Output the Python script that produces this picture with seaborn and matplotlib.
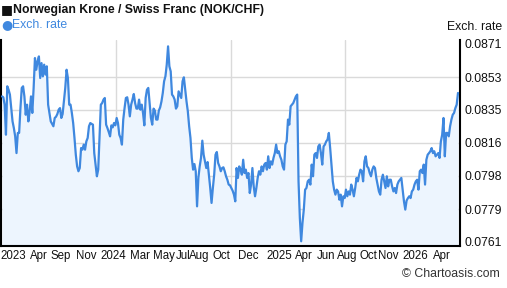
import numpy as np
import pandas as pd
import matplotlib
matplotlib.use("Agg")
import matplotlib.pyplot as plt
import seaborn as sns

# ---- data (NOK/CHF exchange rate) ----
rate_2023 = [0.08419, 0.08414, 0.08373, 0.08206, 0.08475, 0.08456, 0.08429, 0.08354, 0.08280, 0.08243,
             0.08197, 0.08104, 0.08216, 0.08216, 0.08354, 0.08466, 0.08475, 0.08419, 0.08317, 0.08373,
             0.08280, 0.08336, 0.08419, 0.08327, 0.08466, 0.08632, 0.08567, 0.08614, 0.08641, 0.08521,
             0.08604, 0.08530, 0.08595, 0.08540, 0.08586, 0.08373, 0.08327, 0.08280, 0.08266, 0.08253,
             0.08299, 0.08306, 0.08321, 0.08345, 0.08354, 0.08299, 0.08321, 0.08391, 0.08466, 0.08567,
             0.08521, 0.08373, 0.08373, 0.08327, 0.08271, 0.08188, 0.08095, 0.08030, 0.08003]
rate_2023b = [0.08021, 0.08132, 0.08123, 0.08151, 0.08123, 0.08169, 0.08188, 0.08253, 0.08271, 0.08266,
              0.08262, 0.08104, 0.08040, 0.07975, 0.08012, 0.08188, 0.08373, 0.08382, 0.08401, 0.08410,
              0.08262, 0.08243, 0.08221, 0.08197, 0.08258, 0.08247, 0.08271, 0.08258, 0.08299, 0.08271,
              0.08206, 0.08188, 0.08151, 0.08290, 0.08354, 0.08410, 0.08414, 0.08373, 0.08308, 0.08373,
              0.08401, 0.08432, 0.08382, 0.08351, 0.08351, 0.08401, 0.08345, 0.08373, 0.08327, 0.08258,
              0.08410, 0.08456, 0.08466, 0.08382, 0.08299, 0.08262, 0.08351, 0.08340, 0.08290]
rate_2024 = [0.08290, 0.08340, 0.08358, 0.08391, 0.08438, 0.08503, 0.08530, 0.08595, 0.08697, 0.08586,
             0.08558, 0.08429, 0.08419, 0.08401, 0.08351, 0.08364, 0.08447, 0.08429, 0.08410, 0.08503,
             0.08525, 0.08456, 0.08391, 0.08336, 0.08253, 0.08188, 0.08077, 0.08012, 0.08043, 0.08003,
             0.07808, 0.07966, 0.08030, 0.08077, 0.08173, 0.08095, 0.08058, 0.08021, 0.08054, 0.07984,
             0.07910, 0.07827, 0.07910, 0.07984, 0.08095, 0.08110, 0.08049, 0.08030, 0.08003, 0.08021,
             0.08025, 0.08003, 0.07975, 0.07956, 0.07929, 0.07925, 0.07910, 0.07895, 0.07873]
rate_2024b = [0.07836, 0.08021, 0.07966, 0.08030, 0.08012, 0.07984, 0.08067, 0.07993, 0.08012, 0.07966,
              0.07993, 0.07882, 0.07929, 0.08021, 0.07919, 0.07864, 0.07910, 0.07966, 0.08003, 0.07984,
              0.08030, 0.08003, 0.08040, 0.08049, 0.08012, 0.08086, 0.08021, 0.08058, 0.08040, 0.08077,
              0.08104, 0.08151, 0.08104, 0.08114, 0.08086, 0.08067, 0.08030, 0.08012, 0.08151, 0.08169,
              0.08290, 0.08262, 0.08364, 0.08373, 0.08382, 0.08401, 0.08419, 0.08429, 0.07947, 0.07743,
              0.07614, 0.07716, 0.07790, 0.07901, 0.07910, 0.07947, 0.07956, 0.07929, 0.08040]
rate_2025 = [0.07975, 0.08095, 0.08104, 0.08077, 0.08141, 0.08151, 0.08104, 0.08040, 0.08141, 0.08151,
             0.08169, 0.08179, 0.08216, 0.08132, 0.08040, 0.07947, 0.07901, 0.07873, 0.07901, 0.07891,
             0.07845, 0.07873, 0.07808, 0.07864, 0.07854, 0.07901, 0.07864, 0.07891, 0.07873, 0.07929,
             0.07901, 0.07864, 0.07910, 0.07966, 0.07947, 0.07984, 0.08012, 0.08003, 0.07947, 0.08058,
             0.08086, 0.08030, 0.08021, 0.07993, 0.07975, 0.08012, 0.08030, 0.08021, 0.07966, 0.07929,
             0.07891, 0.07873, 0.07956, 0.07984, 0.07947, 0.07910, 0.07975, 0.07919, 0.07956]
rate_2026 = [0.07956, 0.07919, 0.07891, 0.07910, 0.07882, 0.07929, 0.07947, 0.07956, 0.07966, 0.07901,
             0.07836, 0.07790, 0.07840, 0.07854, 0.07864, 0.07854, 0.07891, 0.07901, 0.07929, 0.07947,
             0.07956, 0.07901, 0.08003, 0.08012, 0.07993, 0.08040, 0.07929, 0.08067, 0.08095, 0.08104,
             0.08114, 0.08132, 0.08104, 0.08114, 0.08086, 0.08095, 0.08104, 0.08077, 0.08169, 0.08206,
             0.08299, 0.08086, 0.08216, 0.08216, 0.08197, 0.08253, 0.08290, 0.08317, 0.08327, 0.08354,
             0.08373, 0.08438]

x_labels = ["2023", "Apr", "Sep", "Nov", "2024", "Mar", "May", "Jul", "Aug", "Oct", "Dec",
            "2025", "Apr", "Jun", "Aug", "Oct", "Nov", "2026", "Apr"]
x_label_pos = [8.3, 28.1, 44.8, 63.7, 84.2, 104.7, 122.9, 137.3, 149.5, 166.2, 186.7,
               210.2, 229.2, 245.9, 261.8, 277.7, 292.9, 313.4, 333.8]
y_tick_labels = ["0.0761", "0.0779", "0.0798", "0.0816", "0.0835", "0.0853", "0.0871"]
y_min, y_max = 0.0761, 0.0871

title = "Norwegian Krone / Swiss Franc (NOK/CHF)"
series_name = "Exch. rate"

rate = rate_2023 + rate_2023b + rate_2024 + rate_2024b + rate_2025 + rate_2026
df = pd.DataFrame({"i": np.arange(len(rate)), "rate": rate})

# ---- style ----
sns.set_style("white")
plt.rcParams["font.family"] = ["Liberation Sans", "DejaVu Sans"]
FS = 8.8
TFS = 8.3
LINE = "#3F88DF"
FILL = "#EDF5FE"
GRID = "#DADADA"

W, H = 507, 288
fig = plt.figure(figsize=(W / 100, H / 100), dpi=100)
ax = fig.add_axes([1 / W, 42 / H, 459 / W, 206 / H])

n = len(rate)
ppi = 456 / (n - 1)
xlim = (-1 / ppi, (n - 1) + 2 / ppi)
span = y_max - y_min
pad = span * 4 / 198
ylim = (y_min - pad, y_max + pad)
ax.set_xlim(*xlim)
ax.set_ylim(*ylim)

yticks = np.linspace(y_min, y_max, len(y_tick_labels))
for v in yticks[1:-1]:
    ax.axhline(v, color=GRID, lw=1.0, zorder=1)
for f in (0.25, 0.5, 0.75):
    ax.axvline(xlim[0] + f * (xlim[1] - xlim[0]), color=GRID, lw=1.0, zorder=1)

ax.fill_between(df["i"], df["rate"], ylim[0], color=FILL, lw=0, zorder=2)
sns.lineplot(data=df, x="i", y="rate", color=LINE, lw=1.6, ax=ax, zorder=3)

ax.set_xlabel("")
ax.set_ylabel("")
ax.yaxis.tick_right()
ax.set_yticks(yticks)
ax.set_yticklabels(y_tick_labels)
ax.set_xticks(x_label_pos)
ax.set_xticklabels(x_labels)
ax.tick_params(axis="y", length=0, pad=3.5, labelsize=FS, colors="#111111")
ax.tick_params(axis="x", length=0, pad=3, labelsize=TFS, colors="#111111")
for s in ("left", "right", "bottom"):
    ax.spines[s].set_visible(True)
    ax.spines[s].set_color("black")
    ax.spines[s].set_linewidth(1.5)
ax.spines["top"].set_visible(False)
ax.grid(False)

# ---- header texts ----
fig.text(1.0 / W, 1 - 9.5 / H, "\u25A0", fontsize=FS + 0.4, color="#111111", va="center",
         family=["DejaVu Sans"])
fig.text(13 / W, 1 - 9.5 / H, title, fontsize=FS, weight="bold", color="#111111", va="center")
fig.text(1.0 / W, 1 - 24.5 / H, "\u25CF", fontsize=FS + 0.6, color=LINE, va="center",
         family=["DejaVu Sans"])
fig.text(12.5 / W, 1 - 24.5 / H, series_name, fontsize=FS, color=LINE, va="center")
fig.text(502 / W, 1 - 27 / H, series_name, fontsize=FS, color="#111111", va="center", ha="right")
fig.text(500 / W, 1 - 274 / H, "\u00A9 Chartoasis.com", fontsize=FS, color="#333333",
         va="center", ha="right")

fig.savefig("out.png", dpi=100)
